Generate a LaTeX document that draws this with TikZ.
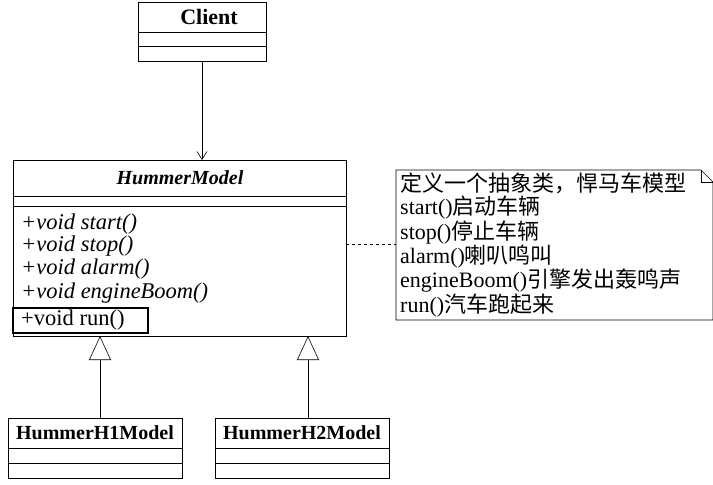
\documentclass[tikz,border=0pt]{standalone}
\usepackage{fontspec}
\setmainfont{Liberation Serif}
\newfontfamily\cjk{Noto Sans CJK SC}
\usetikzlibrary{arrows.meta}
\begin{document}
\begin{tikzpicture}[x=1pt,y=-1pt,
  box/.style={draw,line width=0.8pt},
  ttl/.style={font=\fontsize{20}{22}\selectfont\bfseries},
  mth/.style={anchor=west,font=\fontsize{22.5}{24}\selectfont\itshape,inner sep=1pt},
  gen/.style={-{Triangle[open,length=24pt,width=22pt]},line width=0.6pt}]
\useasboundingbox (0,0) rectangle (713,485);
% Client
\draw[box] (138,2) rectangle (266,61);
\draw[box] (138,32) -- (266,32) (138,46) -- (266,46);
\node[ttl,font=\fontsize{22}{24}\selectfont\bfseries] (client) at (209,17) {Client};
\coordinate (cb) at (202,61);
% HummerModel
\draw[box] (13,160) rectangle (346,336);
\draw[box] (13,196) -- (346,196) (13,206) -- (346,206);
\node[ttl,font=\fontsize{20}{22}\selectfont\bfseries\itshape] (hm) at (180,178) {HummerModel};
\coordinate (ht) at (202,160);
\node[mth] (m1) at (20,224) {+void start()};
\node[mth] (m2) at (20,246) {+void stop()};
\node[mth] (m3) at (20,269) {+void alarm()};
\node[mth] (m4) at (20,293) {+void engineBoom()};
\node[mth,font=\fontsize{22.5}{24}\selectfont] (m5) at (20,320) {+void run()};
\draw[line width=1.6pt] (13,308) rectangle (148,333);
\draw[-{Straight Barb[length=8pt,width=10pt]},line width=0.6pt] (cb) -- (ht);
% note
\draw[line width=0.6pt] (396,170) -- (701,170) -- (713,182) -- (713,320) -- (396,320) -- cycle;
\draw[line width=0.6pt] (701,170) -- (701,182) -- (713,182);
\node[anchor=north west,align=left,inner sep=0pt,font=\fontsize{22}{23}\selectfont] (note) at (400,173)
 {{\cjk 定义一个抽象类，悍马车模型}\\start(){\cjk 启动车辆}\\stop(){\cjk 停止车辆}\\alarm(){\cjk 喇叭鸣叫}\\engineBoom(){\cjk 引擎发出轰鸣声}\\run(){\cjk 汽车跑起来}};
\coordinate (nl) at (396,244);
\coordinate (hr) at (346,244);
\draw[dashed,line width=0.6pt,dash pattern=on 3pt off 3pt] (hr) -- (nl);
% subclasses
\foreach \x/\n/\t in {8/h1/HummerH1Model,215/h2/HummerH2Model}{
  \draw[box] (\x,418) rectangle ({\x+174},478);
  \draw[box] (\x,448) -- ({\x+174},448) (\x,463) -- ({\x+174},463);
  \node[ttl] (\n) at ({\x+87},433) {\t};
}
\coordinate (h1t) at (100,418); \coordinate (a1) at (100,336);
\coordinate (h2t) at (308,418); \coordinate (a2) at (308,336);
\draw[gen] (h1t) -- (a1);
\draw[gen] (h2t) -- (a2);
\end{tikzpicture}
\end{document}
